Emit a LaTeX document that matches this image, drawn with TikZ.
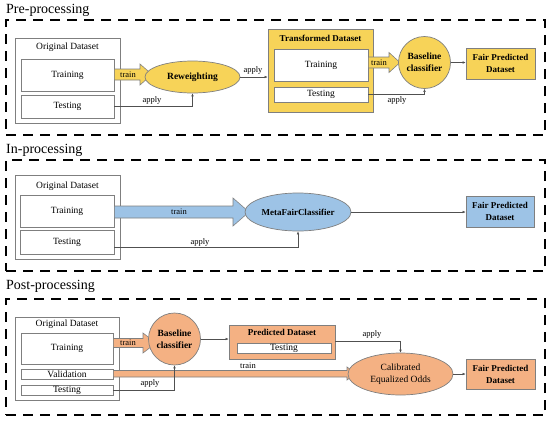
\documentclass[tikz,border=0pt]{standalone}
\usepackage{fontspec}
\setmainfont{Liberation Serif}
\usetikzlibrary{shapes.geometric,arrows.meta}
\definecolor{yel}{HTML}{F7D358}
\definecolor{blu}{HTML}{9DC3E6}
\definecolor{ora}{HTML}{F4B183}
\definecolor{edge}{HTML}{7F7F7F}
\definecolor{conn}{HTML}{505050}
\tikzset{
  stagebox/.style={draw=black, line width=1.8pt, dash pattern=on 10pt off 7pt, inner sep=0},
  stagetitle/.style={font=\fontsize{14}{16}\selectfont, anchor=base west, inner sep=0},
  dsbox/.style={draw=edge, line width=0.7pt, fill=white, inner sep=0, font=\fontsize{9.5}{11}\selectfont},
  colbox/.style={draw=edge, line width=0.7pt, inner sep=0, align=center, font=\bfseries\fontsize{9}{12}\selectfont},
  oval/.style={ellipse, draw=edge, line width=0.7pt, inner sep=0, align=center, font=\bfseries\fontsize{9.5}{12}\selectfont},
  rnd/.style={circle, draw=edge, line width=0.7pt, inner sep=0, align=center, font=\bfseries\fontsize{9.5}{12}\selectfont},
  lbl/.style={inner sep=0, font=\fontsize{9.5}{11}\selectfont},
  small/.style={inner sep=0, font=\fontsize{8.5}{10}\selectfont},
  conline/.style={draw=conn, line width=0.5pt, -{Latex[length=3pt,width=2.6pt]}},
  fatarrow/.style={draw=edge, line width=0.6pt},
}
\begin{document}
\begin{tikzpicture}[x=1pt,y=-1pt]
\useasboundingbox (0,0) rectangle (550,421);

% ---------------- Pre-processing ----------------
\node[stagetitle] (t1) at (6,13.5) {Pre-processing};
\node[stagebox, minimum width=539, minimum height=115] (s1) at (275.5,77.5) {};

\node[dsbox, minimum width=105, minimum height=85] (od1) at (67.5,80.5) {};
\node[lbl] (od1l) at (67.5,47) {Original Dataset};
\node[dsbox, minimum width=93, minimum height=32] (tr1) at (67.5,75) {Training};
\node[dsbox, minimum width=93, minimum height=23] (te1) at (67.5,106.5) {Testing};

\draw[fatarrow, fill=yel] (tr1.east |- 0,69) -- (140,69) -- (140,64) -- (152,74.5) -- (140,85) -- (140,80) -- (tr1.east |- 0,80) -- cycle;
\node[oval, fill=yel, minimum width=95, minimum height=32] (rw) at (192.5,77) {Reweighting};
\node[small] (trl1) at (128,74.5) {train};

\node[colbox, fill=yel, minimum width=105, minimum height=83] (td) at (320.5,70.5) {};
\node[lbl, font=\bfseries\fontsize{9}{11}\selectfont] (tdl) at (320.5,38) {Transformed Dataset};
\node[dsbox, minimum width=94, minimum height=32] (tr2) at (321,65) {Training};
\node[dsbox, minimum width=94, minimum height=15] (te2) at (321,94.5) {Testing};

\draw[fatarrow, fill=yel] (tr2.east |- 0,57) -- (389,57) -- (389,52.5) -- (400,62.5) -- (389,72.5) -- (389,68) -- (tr2.east |- 0,68) -- cycle;
\node[rnd, fill=yel, minimum size=52] (bc1) at (424.5,62.5) {Baseline\\classifier};
\node[small] (trl2) at (379,62.5) {train};

\node[colbox, fill=yel, minimum width=69, minimum height=31] (fp1) at (500.5,63.5) {Fair Predicted\\Dataset};

\draw[conline] (te1.east) -| (rw.south);
\node[small] (ap1) at (152,100) {apply};
\draw[conline] (rw.east) -- (td.west |- rw.east);
\node[small] (ap2) at (253,70) {apply};
\draw[conline] (te2.east) -| (bc1.south);
\node[small] (ap3) at (397,100) {apply};
\draw[conline] (bc1.east) -- (fp1.west |- bc1.east);

% ---------------- In-processing ----------------
\node[stagetitle] (t2) at (6,153) {In-processing};
\node[stagebox, minimum width=539, minimum height=111] (s2) at (275.5,215.5) {};

\node[dsbox, minimum width=105, minimum height=84] (od2) at (67.5,217) {};
\node[lbl] (od2l) at (67.5,186) {Original Dataset};
\node[dsbox, minimum width=94, minimum height=32] (tr3) at (67,211) {Training};
\node[dsbox, minimum width=94, minimum height=24] (te3) at (67,242) {Testing};

\draw[fatarrow, fill=blu] (tr3.east |- 0,206) -- (233,206) -- (233,198) -- (249,212) -- (233,226) -- (233,218) -- (tr3.east |- 0,218) -- cycle;
\node[oval, fill=blu, minimum width=106, minimum height=38, font=\bfseries\fontsize{9}{11}\selectfont] (mfc) at (298,212) {MetaFairClassifier};
\node[small] (trl3) at (179,212) {train};

\node[colbox, fill=blu, minimum width=68, minimum height=31] (fp2) at (500,211.5) {Fair Predicted\\Dataset};

\draw[conline] (te3.east |- 0,247) -| (mfc.south);
\node[small] (ap4) at (200,242.5) {apply};
\draw[conline] (mfc.east) -- (fp2.west |- mfc.east);

% ---------------- Post-processing ----------------
\node[stagetitle] (t3) at (6,289) {Post-processing};
\node[stagebox, minimum width=539, minimum height=116] (s3) at (275.5,357) {};

\node[dsbox, minimum width=104, minimum height=83] (od3) at (67,358.5) {};
\node[lbl] (od3l) at (67,324) {Original Dataset};
\node[dsbox, minimum width=92, minimum height=31] (tr4) at (67,348.5) {Training};
\node[dsbox, minimum width=92, minimum height=10] (va4) at (67,374) {Validation};
\node[dsbox, minimum width=92, minimum height=10] (te4) at (67,390) {Testing};

\draw[fatarrow, fill=ora] (tr4.east |- 0,338.5) -- (143,338.5) -- (143,333) -- (156,343) -- (143,353) -- (143,347.5) -- (tr4.east |- 0,347.5) -- cycle;
\node[rnd, fill=ora, minimum size=52] (bc2) at (174.5,339) {Baseline\\classifier};
\node[small] (trl4) at (128,343) {train};

\node[colbox, fill=ora, minimum width=106, minimum height=34] (pd) at (282,342) {};
\node[lbl, font=\bfseries\fontsize{9}{11}\selectfont] (pdl) at (282,332) {Predicted Dataset};
\node[dsbox, minimum width=94, minimum height=10] (te5) at (284,348) {Testing};

\draw[fatarrow, fill=ora] (va4.east |- 0,370.5) -- (347,370.5) -- (347,367) -- (356,373.5) -- (347,380) -- (347,377) -- (va4.east |- 0,377) -- cycle;
\node[oval, fill=ora, minimum width=105, minimum height=42, font=\fontsize{9.5}{12}\selectfont] (ceo) at (400.5,374) {Calibrated\\Equalized Odds};
\node[small] (trl5) at (248,366) {train};

\node[colbox, fill=ora, minimum width=69, minimum height=30] (fp3) at (500.5,374) {Fair Predicted\\Dataset};

\draw[conline] (bc2.east) -- (bc2.east -| pd.west);
\draw[conline] (te4.east) -| (bc2.south);
\node[small] (ap5) at (150,383) {apply};
\draw[conline] (pd.east |- 0,341) -| (ceo.north);
\node[small] (ap6) at (372,334.5) {apply};
\draw[conline] (ceo.east) -- (fp3.west |- ceo.east);
\end{tikzpicture}
\end{document}
